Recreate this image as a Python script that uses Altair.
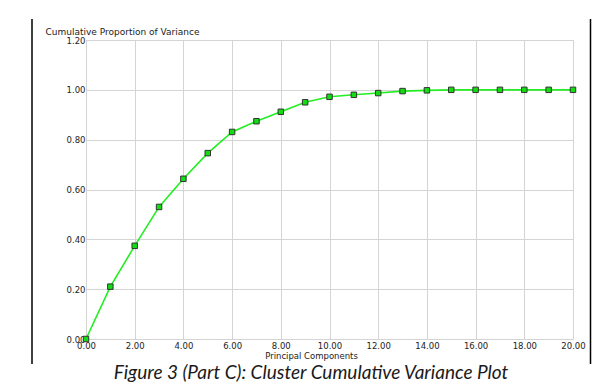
import altair as alt
import pandas as pd

components = list(range(0, 21))
cum_var = [0.0, 0.21, 0.374, 0.53, 0.643, 0.746, 0.831, 0.874, 0.912, 0.950, 0.972,
           0.980, 0.987, 0.995, 0.998, 1.0, 1.0, 1.0, 1.0, 1.0, 1.0]
caption = "Figure 3 (Part C): Cluster Cumulative Variance Plot"

df = pd.DataFrame({"pc": components, "v": cum_var})

W, H = 487, 299
FONT = "DejaVu Sans"

x_enc = alt.X("pc:Q", scale=alt.Scale(domain=[0, 20], nice=False),
              axis=alt.Axis(values=list(range(0, 21, 2)), format=".2f",
                            title="Principal Components", titleX=225, titleY=16,
                            titleBaseline="middle",
                            titleFontWeight="normal", titleFont=FONT,
                            titleFontSize=8.5, titleColor="#222",
                            labelFont=FONT, labelFontSize=8.5, labelColor="#222",
                            labelPadding=2, labelFlush=False, ticks=False, domain=False,
                            gridColor="#d4d4d4", labelOverlap=False))
y_enc = alt.Y("v:Q", scale=alt.Scale(domain=[0, 1.2], nice=False),
              axis=alt.Axis(values=[0, 0.2, 0.4, 0.6, 0.8, 1.0, 1.2], format=".2f",
                            title="Cumulative Proportion of Variance",
                            titleAngle=0, titleX=-41, titleY=-9, titleAlign="left",
                            titleBaseline="middle",
                            titleFontWeight="normal", titleFont=FONT,
                            titleFontSize=9, titleColor="#222",
                            labelFont=FONT, labelFontSize=8.5, labelColor="#222",
                            labelPadding=1, labelFlush=False, ticks=False, domain=False,
                            gridColor="#d4d4d4", labelOverlap=False))

base = alt.Chart(df)
line = base.mark_line(color="#22ee22", strokeWidth=1.6).encode(x=x_enc, y=y_enc)
pts = base.mark_square(size=30, filled=True, color="#11dd11", stroke="#333333",
                       strokeWidth=1, opacity=1).encode(x="pc:Q", y="v:Q")

frame_df = pd.DataFrame({"side": ["l", "r"]})
left_rule = alt.Chart(frame_df.iloc[[0]]).mark_rule(color="#000", strokeWidth=1.5).encode(
    x=alt.value(-54), y=alt.value(-21), y2=alt.value(324))
right_rule = alt.Chart(frame_df.iloc[[1]]).mark_rule(color="#000", strokeWidth=1.5).encode(
    x=alt.value(504.5), y=alt.value(-21), y2=alt.value(324))

cap = alt.Chart(pd.DataFrame({"t": [caption]})).mark_text(
    font="Lato", fontStyle="italic", fontSize=19, color="#1a1a1a",
    align="center", baseline="alphabetic").encode(
    text="t:N", x=alt.value(225), y=alt.value(339))

chart = alt.layer(line, pts, left_rule, right_rule, cap).properties(
    width=W, height=H,
    autosize=alt.AutoSizeParams(type="none"),
    padding={"left": 78, "top": 32, "right": 25, "bottom": 44},
).configure_view(stroke=None).configure(background="white")

chart.save("out.html", embed_options={"renderer": "svg", "actions": False})
